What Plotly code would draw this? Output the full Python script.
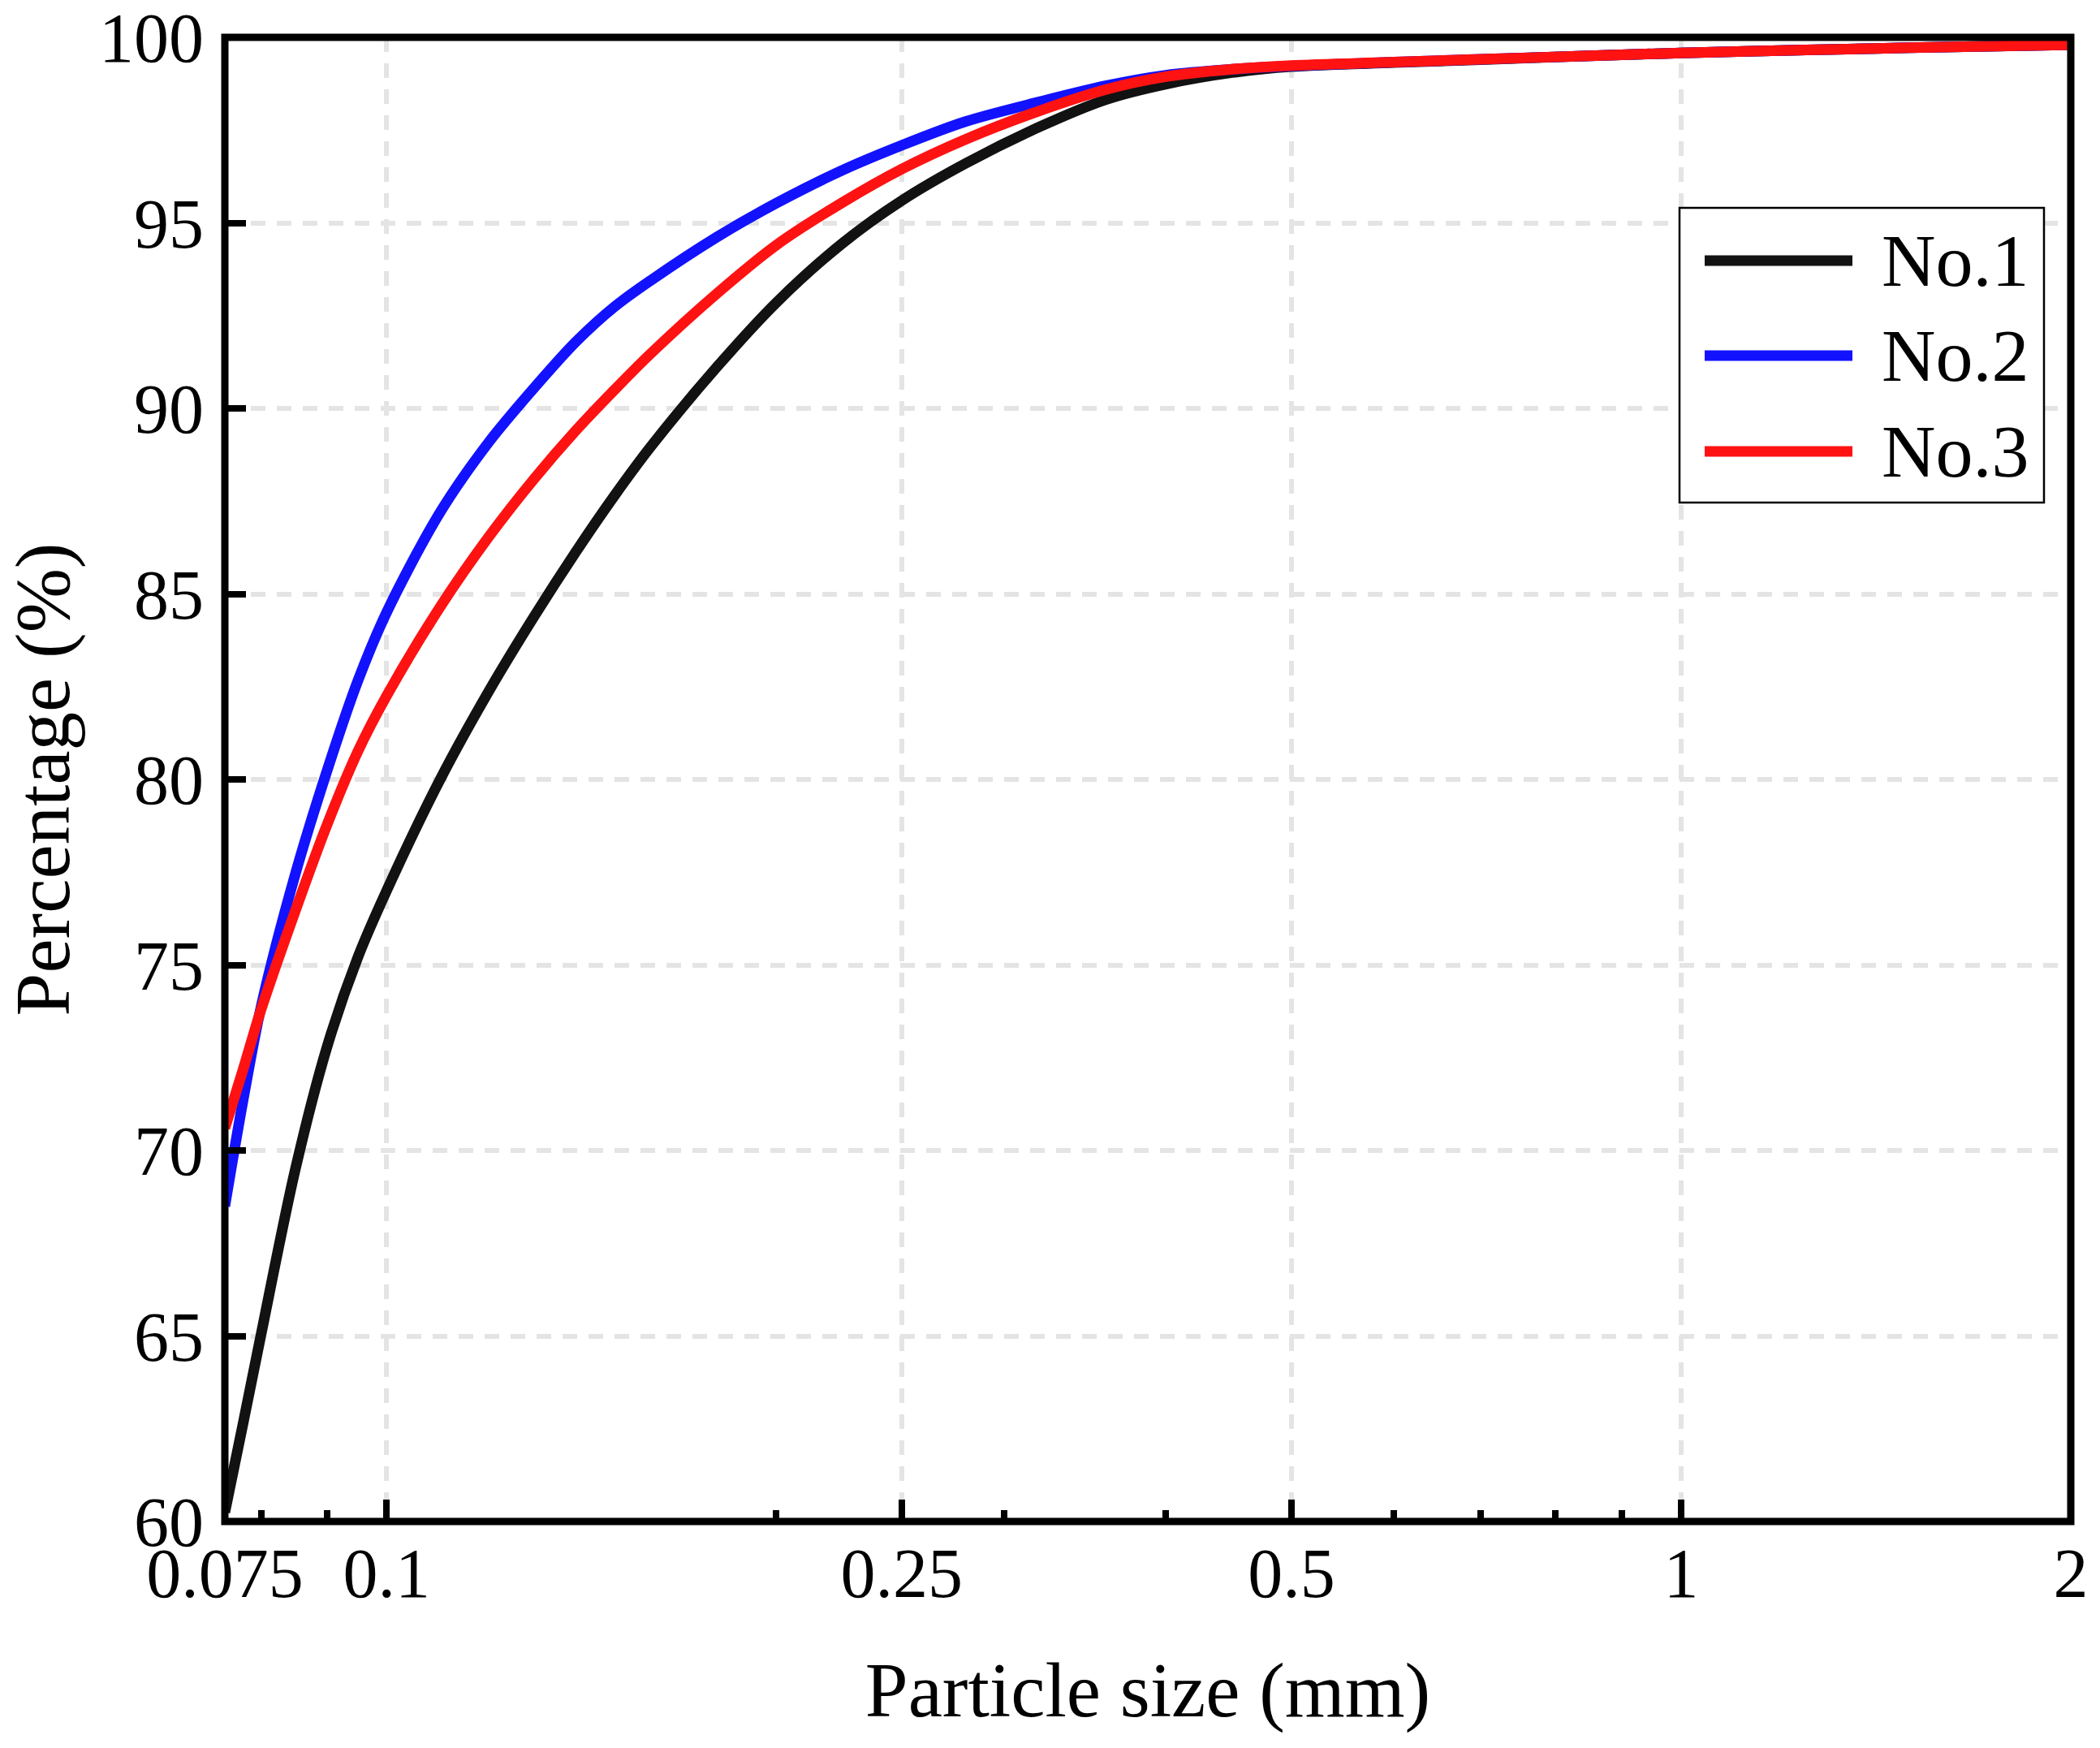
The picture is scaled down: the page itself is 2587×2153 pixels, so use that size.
import math
import plotly.graph_objects as go

# ---------------- data ----------------
size_mm = [0.075, 0.0775, 0.08, 0.085, 0.09, 0.095, 0.1, 0.11, 0.12, 0.13, 0.14, 0.15,
           0.16, 0.18, 0.2, 0.225, 0.25, 0.28, 0.32, 0.36, 0.4, 0.45, 0.5, 0.6, 0.7,
           0.85, 1.0, 1.25, 1.5, 2.0]

no1 = [60.25, 62.67, 65.05, 69.48, 72.82, 75.2, 77.0, 80.0, 82.39, 84.39, 86.13, 87.65,
       88.97, 91.12, 92.85, 94.45, 95.6, 96.6, 97.6, 98.33, 98.74, 99.05, 99.21, 99.32,
       99.4, 99.5, 99.58, 99.66, 99.72, 99.8]

no2 = [68.5, 71.38, 73.88, 77.44, 80.26, 82.65, 84.5, 87.2, 89.1, 90.55, 91.79, 92.74,
       93.45, 94.62, 95.53, 96.42, 97.09, 97.73, 98.27, 98.7, 98.98, 99.14, 99.23, 99.33,
       99.41, 99.5, 99.58, 99.66, 99.72, 99.8]

no3 = [70.6, 72.2, 73.8, 76.45, 78.8, 80.75, 82.25, 84.65, 86.55, 88.1, 89.4, 90.5,
       91.48, 93.1, 94.4, 95.55, 96.45, 97.25, 98.03, 98.6, 98.94, 99.14, 99.24, 99.33,
       99.41, 99.5, 99.58, 99.66, 99.72, 99.8]

series_names = ["No.1", "No.2", "No.3"]
series_values = [no1, no2, no3]
series_colors = ["#121212", "#1212ff", "#ff1212"]

x_tick_vals = [0.075, 0.1, 0.25, 0.5, 1, 2]
x_tick_text = ["0.075", "0.1", "0.25", "0.5", "1", "2"]
x_minor_vals = [0.08, 0.09, 0.2, 0.3, 0.4, 0.6, 0.7, 0.8, 0.9]
y_tick_vals = [60, 65, 70, 75, 80, 85, 90, 95, 100]
y_tick_text = [str(v) for v in y_tick_vals]

x_title = "Particle size (mm)"
y_title = "Percentage (%)"

# ---------------- layout constants ----------------
W, H = 2587, 2153
ML, MR, MT, MB = 277, 36, 46, 279
PW, PH = W - ML - MR, H - MT - MB
FONT = "Liberation Serif, Times New Roman, serif"
GRID = "#e4e4e4"


def px(xp):
    return (xp - ML) / PW


def py(yp):
    return (H - MB - yp) / PH


fig = go.Figure()
for name, vals, col in zip(series_names, series_values, series_colors):
    fig.add_trace(go.Scatter(
        x=size_mm, y=vals, mode="lines", name=name,
        line=dict(color=col, width=13, shape="spline", smoothing=0.9),
        showlegend=False,
    ))

axis_common = dict(
    showline=False, zeroline=False,
    ticks="inside", tickwidth=8, tickcolor="black",
    showgrid=True, gridcolor=GRID, gridwidth=6, griddash="18px,14px",
    tickfont=dict(family=FONT, size=86, color="black"),
    ticklabeloverflow="allow",
)

fig.update_xaxes(
    type="log",
    range=[math.log10(0.075), math.log10(2)],
    tickmode="array", tickvals=x_tick_vals, ticktext=x_tick_text,
    ticklen=27, ticklabelstandoff=6,
    minor=dict(tickmode="array", tickvals=x_minor_vals, ticks="inside",
               ticklen=14, tickwidth=8, tickcolor="black", showgrid=False),
    title=dict(text=x_title, font=dict(family=FONT, size=95, color="black"), standoff=62),
    **axis_common,
)
fig.update_yaxes(
    range=[60, 100],
    tickmode="array", tickvals=y_tick_vals, ticktext=y_tick_text,
    ticklen=26, ticklabelstandoff=25,
    title=dict(text=y_title, font=dict(family=FONT, size=95, color="black"), standoff=42),
    **axis_common,
)

shapes = [
    dict(type="rect", xref="paper", yref="paper", x0=0, x1=1, y0=0, y1=1,
         line=dict(color="black", width=9), layer="above"),
    dict(type="rect", xref="paper", yref="paper",
         x0=px(2069), x1=px(2518), y0=py(619), y1=py(256),
         line=dict(color="black", width=2.5), fillcolor="white", layer="above"),
]
annotations = []
legend_rows_y = [321, 438, 556]
for name, col, yy in zip(series_names, series_colors, legend_rows_y):
    shapes.append(dict(type="line", xref="paper", yref="paper",
                       x0=px(2100), x1=px(2282), y0=py(yy), y1=py(yy),
                       line=dict(color=col, width=13), layer="above"))
    annotations.append(dict(xref="paper", yref="paper", x=px(2316), y=py(yy),
                            text=name, showarrow=False, xanchor="left", yanchor="middle",
                            font=dict(family=FONT, size=92, color="black")))

fig.update_layout(
    width=W, height=H,
    margin=dict(l=ML, r=MR, t=MT, b=MB, autoexpand=False),
    paper_bgcolor="white", plot_bgcolor="white",
    shapes=shapes, annotations=annotations,
    showlegend=False,
)

fig.write_html("out.html")
